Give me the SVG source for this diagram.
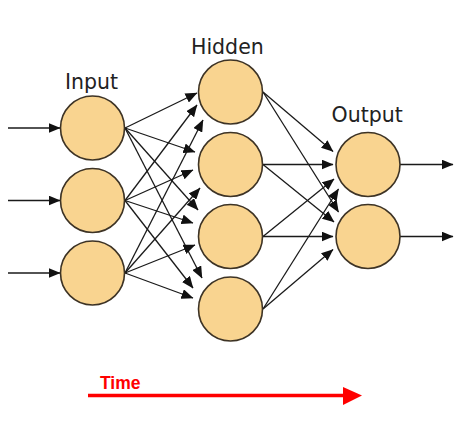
<svg xmlns="http://www.w3.org/2000/svg" width="474" height="424" viewBox="0 0 474 424">
<style>
.node{fill:#f9d490;stroke:#3d3325;stroke-width:1.6}
.edge{stroke:#1a1a1a;stroke-width:1.3;fill:none;marker-end:url(#ah)}
.lbl{font-family:"DejaVu Sans",sans-serif;font-size:20.5px;fill:#222}
</style>
<defs>
<marker id="ah" markerUnits="userSpaceOnUse" markerWidth="12" markerHeight="10" refX="11.5" refY="5" orient="auto">
<path d="M0,0 L12,5 L0,10 z" fill="#111"/>
</marker>
</defs>
<rect width="474" height="424" fill="#fff"/>
<g id="connectors">
<line class="edge" x1="8" y1="128" x2="60" y2="128"/>
<line class="edge" x1="8" y1="200.5" x2="60" y2="200.5"/>
<line class="edge" x1="8" y1="273" x2="60" y2="273"/>
<line class="edge" x1="125" y1="128" x2="197" y2="93"/>
<line class="edge" x1="125" y1="128" x2="195" y2="152"/>
<line class="edge" x1="125" y1="128" x2="198" y2="210"/>
<line class="edge" x1="125" y1="128" x2="202" y2="278"/>
<line class="edge" x1="125" y1="200.5" x2="197" y2="105"/>
<line class="edge" x1="125" y1="200.5" x2="193" y2="170"/>
<line class="edge" x1="125" y1="200.5" x2="193" y2="223"/>
<line class="edge" x1="125" y1="200.5" x2="193" y2="288"/>
<line class="edge" x1="125" y1="273" x2="203" y2="120"/>
<line class="edge" x1="125" y1="273" x2="200" y2="188"/>
<line class="edge" x1="125" y1="273" x2="195" y2="245"/>
<line class="edge" x1="125" y1="273" x2="193" y2="298"/>
<line class="edge" x1="263" y1="92" x2="333" y2="151.5"/>
<line class="edge" x1="263" y1="92" x2="338.5" y2="212"/>
<line class="edge" x1="263" y1="164.5" x2="333" y2="164.5"/>
<line class="edge" x1="263" y1="164.5" x2="334" y2="222"/>
<line class="edge" x1="263" y1="236.5" x2="334" y2="179"/>
<line class="edge" x1="263" y1="236.5" x2="333" y2="236.5"/>
<line class="edge" x1="263" y1="309" x2="338.5" y2="189"/>
<line class="edge" x1="263" y1="309" x2="333" y2="249.5"/>
<line class="edge" x1="400" y1="164.5" x2="453" y2="164.5"/>
<line class="edge" x1="400" y1="236.5" x2="453" y2="236.5"/>
</g>
<g id="input1"><circle class="node" cx="92.5" cy="128" r="32"/></g>
<g id="input2"><circle class="node" cx="92.5" cy="200.5" r="32"/></g>
<g id="input3"><circle class="node" cx="92.5" cy="273" r="32"/></g>
<g id="hidden1"><circle class="node" cx="230.5" cy="92" r="32"/></g>
<g id="hidden2"><circle class="node" cx="230.5" cy="164.5" r="32"/></g>
<g id="hidden3"><circle class="node" cx="230.5" cy="236.5" r="32"/></g>
<g id="hidden4"><circle class="node" cx="230.5" cy="309" r="32"/></g>
<g id="output1"><circle class="node" cx="368" cy="164.5" r="32"/></g>
<g id="output2"><circle class="node" cx="368" cy="236.5" r="32"/></g>
<g id="labels">
<text class="lbl" x="65" y="89">Input</text>
<text class="lbl" x="191" y="54">Hidden</text>
<text class="lbl" x="331.5" y="121.5">Output</text>
</g>
<g id="time">
<text x="100" y="389" font-family="'Liberation Sans',Arial,sans-serif" font-weight="bold" font-size="17.5" fill="#ff0000">Time</text>
<line x1="88" y1="395.5" x2="346" y2="395.5" stroke="#ff0000" stroke-width="3.5"/>
<polygon points="343,387 362,395.5 343,405" fill="#ff0000"/>
</g>
</svg>
